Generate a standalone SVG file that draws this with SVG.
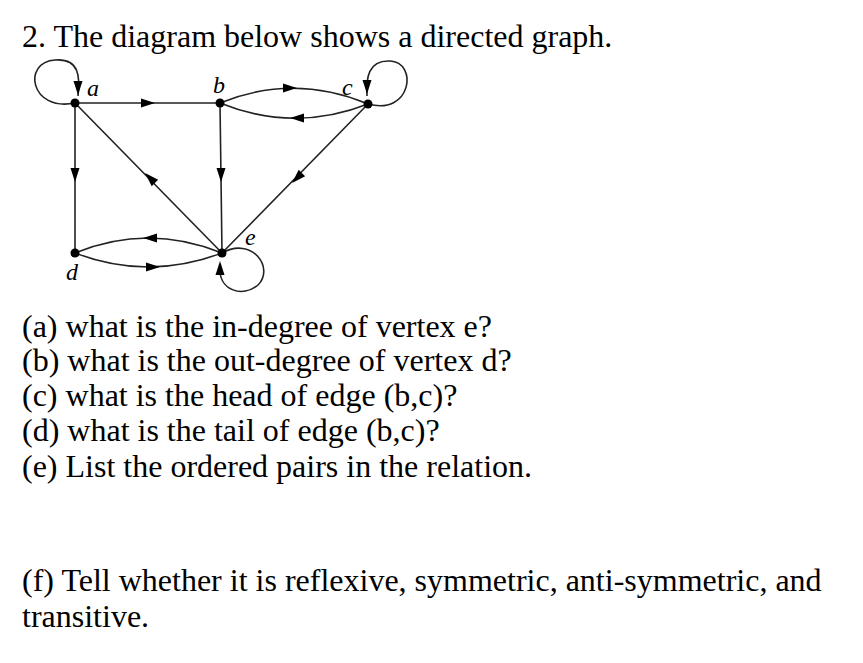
<svg xmlns="http://www.w3.org/2000/svg" width="863" height="663" viewBox="0 0 863 663">
<style>
.t{font-family:"Liberation Serif",serif;font-size:32px;fill:#000}
.l{font-family:"Liberation Serif",serif;font-size:24px;font-style:italic;fill:#000}
.e{fill:none;stroke:#222;stroke-width:1.6}
</style>
<defs><path id="ah" d="M7,0 L-7,-4.5 L-7,4.5Z" fill="#000"/></defs>
<rect width="863" height="663" fill="#fff"/>
<text class="t" x="22" y="47">2. The diagram below shows a directed graph.</text>
<g id="edges">
<path class="e" d="M75,103 L220,103 M75,103 L75,253 M220,103 L222,253 M222,253 L75,103 M368,104 L222,253"/>
<path class="e" d="M220,103 Q294,73 368,104 M368,104 Q294,133 220,103 M75,253 Q148,223 222,253 M75,253 Q148,281 222,253"/>
<path class="e" d="M75,103 C30,112 22,62 55,60 C80,58 80,78 78,96"/>
<path class="e" d="M368,104 C412,116 418,62 390,61 C368,60 366,78 367,96"/>
<path class="e" d="M222,253 C252,236 275,268 258,285 C242,298 220,290 220,270"/>
<use href="#ah" transform="translate(148,103)"/>
<use href="#ah" transform="translate(75,175) rotate(90)"/>
<use href="#ah" transform="translate(221,175) rotate(90)"/>
<use href="#ah" transform="translate(150,178) rotate(-134.4)"/>
<use href="#ah" transform="translate(297,178) rotate(134.4)"/>
<use href="#ah" transform="translate(290,88)"/>
<use href="#ah" transform="translate(297,118) rotate(180)"/>
<use href="#ah" transform="translate(150,238) rotate(180)"/>
<use href="#ah" transform="translate(153,267)"/>
<use href="#ah" transform="translate(78,88) rotate(90)"/>
<use href="#ah" transform="translate(367,87) rotate(90)"/>
<use href="#ah" transform="translate(220,268) rotate(-90)"/>
</g>
<g id="a"><circle cx="75" cy="103" r="4.5"/><text class="l" x="87" y="96">a</text></g>
<g id="b"><circle cx="220" cy="103" r="4.5"/><text class="l" x="213" y="93">b</text></g>
<g id="c"><circle cx="368" cy="104" r="4.5"/><text class="l" x="342" y="95">c</text></g>
<g id="d"><circle cx="75" cy="253" r="4.5"/><text class="l" x="66" y="280">d</text></g>
<g id="e"><circle cx="222" cy="253" r="4.5"/><text class="l" x="245" y="245">e</text></g>
<text class="t" x="22" y="337">(a) what is the in-degree of vertex e?</text>
<text class="t" x="22" y="371">(b) what is the out-degree of vertex d?</text>
<text class="t" x="22" y="406">(c) what is the head of edge (b,c)?</text>
<text class="t" x="22" y="441">(d) what is the tail of edge (b,c)?</text>
<text class="t" x="22" y="477">(e) List the ordered pairs in the relation.</text>
<text class="t" x="22" y="591">(f) Tell whether it is reflexive, symmetric, anti-symmetric, and</text>
<text class="t" x="22" y="627">transitive.</text>
</svg>
